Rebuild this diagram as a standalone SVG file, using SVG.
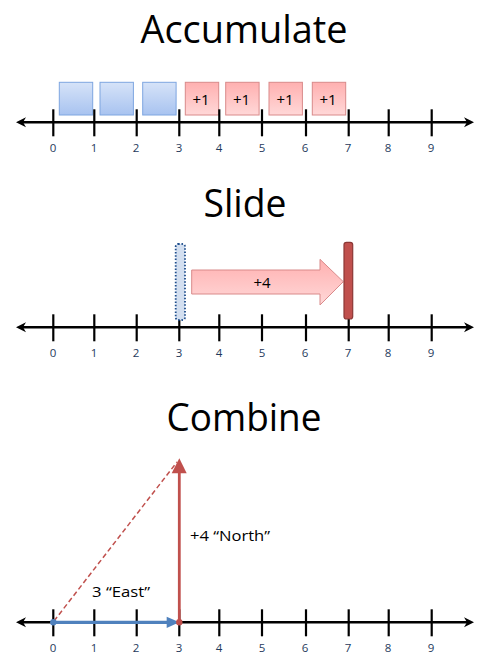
<svg xmlns="http://www.w3.org/2000/svg" width="495" height="665" viewBox="0 0 495 665">
<defs>
<style>
.title{font-family:"Open Sans","Noto Sans",sans-serif;font-size:38px;fill:#000;text-anchor:middle}
.num{font-family:"Open Sans","Noto Sans",sans-serif;font-size:11.5px;fill:#1F3A5C;text-anchor:middle}
.lbl{font-family:"Open Sans","Noto Sans",sans-serif;font-size:15px;fill:#000}
.axis{stroke:#000;stroke-width:2.5;fill:none}
.tick{stroke:#000;stroke-width:2.2}
.bbox{fill:url(#gb);stroke:#7EA6E0;stroke-width:1}
.rbox{fill:url(#gr);stroke:#D98A8A;stroke-width:1}
</style>
<linearGradient id="gb" x1="0" y1="0" x2="0" y2="1"><stop offset="0" stop-color="#D6E3F8"/><stop offset="1" stop-color="#A8C3F0"/></linearGradient>
<linearGradient id="gr" x1="0" y1="0" x2="0" y2="1"><stop offset="0" stop-color="#FFB0B0"/><stop offset="1" stop-color="#FFD8D8"/></linearGradient>
<g id="axisdef">
<line class="axis" x1="22" y1="0" x2="468" y2="0"/>
<path d="M16,0 L26,-5 L23,0 L26,5 Z" fill="#000"/>
<path d="M474,0 L464,-5 L467,0 L464,5 Z" fill="#000"/>
<g class="tick">
<line x1="53.3" y1="-13" x2="53.3" y2="14"/>
<line x1="94.3" y1="-13" x2="94.3" y2="14"/>
<line x1="136.7" y1="-13" x2="136.7" y2="14"/>
<line x1="179.3" y1="-13" x2="179.3" y2="14"/>
<line x1="219.3" y1="-13" x2="219.3" y2="14"/>
<line x1="262" y1="-13" x2="262" y2="14"/>
<line x1="306" y1="-13" x2="306" y2="14"/>
<line x1="348.7" y1="-13" x2="348.7" y2="14"/>
<line x1="388.7" y1="-13" x2="388.7" y2="14"/>
<line x1="431.7" y1="-13" x2="431.7" y2="14"/>
</g>
<g class="num">
<text x="53" y="29.5">0</text><text x="94" y="29.5">1</text><text x="136" y="29.5">2</text><text x="179" y="29.5">3</text><text x="219" y="29.5">4</text><text x="262" y="29.5">5</text><text x="305" y="29.5">6</text><text x="348" y="29.5">7</text><text x="388" y="29.5">8</text><text x="431" y="29.5">9</text>
</g>
</g>
</defs>
<rect width="495" height="665" fill="#fff"/>

<g id="accumulate">
<text class="title" x="244" y="43" textLength="207" lengthAdjust="spacingAndGlyphs">Accumulate</text>
<g id="box-blue-1"><rect class="bbox" x="59.3" y="82.3" width="33.4" height="32.7"/></g>
<g id="box-blue-2"><rect class="bbox" x="100" y="82.3" width="33.4" height="32.7"/></g>
<g id="box-blue-3"><rect class="bbox" x="142.7" y="82.3" width="33.4" height="32.7"/></g>
<g id="box-red-1"><rect class="rbox" x="185.3" y="82.3" width="33.4" height="32.7"/><text class="lbl" x="201" y="104.5" text-anchor="middle">+1</text></g>
<g id="box-red-2"><rect class="rbox" x="225.7" y="82.3" width="33.4" height="32.7"/><text class="lbl" x="241.5" y="104.5" text-anchor="middle">+1</text></g>
<g id="box-red-3"><rect class="rbox" x="269" y="82.3" width="33.4" height="32.7"/><text class="lbl" x="285" y="104.5" text-anchor="middle">+1</text></g>
<g id="box-red-4"><rect class="rbox" x="312.3" y="82.3" width="33.4" height="32.7"/><text class="lbl" x="328" y="104.5" text-anchor="middle">+1</text></g>
<g id="axis-1"><use href="#axisdef" transform="translate(0,122.3)"/></g>
</g>

<g id="slide">
<text class="title" x="245" y="217" textLength="83" lengthAdjust="spacingAndGlyphs">Slide</text>
<g id="axis-2"><use href="#axisdef" transform="translate(0,327.3)"/></g>
<g id="ghost-bar"><rect x="175.7" y="244" width="9.3" height="76" rx="2.5" fill="#D3DFF0" stroke="#1F4E8C" stroke-width="1.8" stroke-dasharray="1.5,1.8"/></g>
<g id="shift-arrow"><path d="M191.7,270 L320,270 L320,259.3 L343.3,281.7 L320,305 L320,294 L191.7,294 Z" fill="url(#gr)" stroke="#D98A8A" stroke-width="1"/><text class="lbl" x="262" y="287.5" text-anchor="middle" font-size="16">+4</text></g>
<g id="new-bar"><rect x="344" y="242.3" width="8.7" height="76.7" rx="2.5" fill="#C0504D" stroke="#8C3836" stroke-width="1.2"/></g>
</g>

<g id="combine">
<text class="title" x="244" y="431" textLength="155" lengthAdjust="spacingAndGlyphs">Combine</text>
<g id="axis-3"><use href="#axisdef" transform="translate(0,622.3)"/></g>
<g id="connectors">
<line x1="54" y1="621" x2="177" y2="462" stroke="#C0504D" stroke-width="1.5" stroke-dasharray="5,3"/>
<line x1="179.3" y1="622" x2="179.3" y2="472" stroke="#C0504D" stroke-width="2.8"/>
<path d="M179.3,458.3 L186.7,473.3 L171.7,473.3 Z" fill="#C0504D"/>
<line x1="53.3" y1="622.3" x2="168" y2="622.3" stroke="#4F81BD" stroke-width="3.2"/>
<path d="M179.3,622.3 L166.7,616.7 L166.7,627.9 Z" fill="#4F81BD"/>
<circle cx="53.3" cy="622.3" r="3.2" fill="#4F81BD"/>
<circle cx="179.3" cy="622.3" r="3.2" fill="#C0504D"/>
</g>
<text class="lbl" x="190" y="541" font-size="16" textLength="80" lengthAdjust="spacingAndGlyphs">+4 “North”</text>
<text class="lbl" x="92" y="597" font-size="16" textLength="58" lengthAdjust="spacingAndGlyphs">3 “East”</text>
</g>
</svg>
